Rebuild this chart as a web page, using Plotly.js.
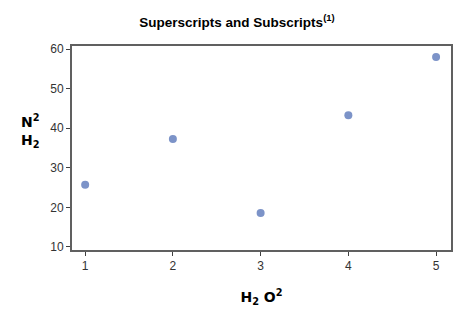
<!DOCTYPE html>
<html><head><meta charset="utf-8">
<script src="https://cdn.plot.ly/plotly-3.0.1.min.js"></script>
<style>html,body{margin:0;padding:0;background:#fff;}#c{width:474px;height:316px;}</style>
</head><body><div id="c"></div>
<script>
const xValues = [1, 2, 3, 4, 5];
const yValues = [25.7, 37.3, 18.6, 43.3, 58.0];
const xTicks = [1, 2, 3, 4, 5];
const yTicks = [10, 20, 30, 40, 50, 60];

const trace = {
  x: xValues, y: yValues, type: 'scatter', mode: 'markers',
  marker: {color: '#7C93C8', size: 8},
  hoverinfo: 'none'
};
const axisCommon = {
  showgrid: false, zeroline: false, showline: true, mirror: true,
  linecolor: '#606060', linewidth: 2, ticks: 'outside', ticklen: 4,
  tickcolor: '#404040', tickwidth: 1,
  tickfont: {family: 'Liberation Sans, Arial, sans-serif', size: 12, color: '#333'}
};
const layout = {
  width: 474, height: 316,
  margin: {l: 72, r: 23, t: 46, b: 66},
  paper_bgcolor: '#fff', plot_bgcolor: '#fff',
  showlegend: false,
  title: {text: '<b>Superscripts and Subscripts<sup>(1)</sup></b>', x: 0.5, xanchor: 'center', y: 0.93, yanchor: 'middle',
    font: {family: 'Liberation Sans, Arial, sans-serif', size: 13.5, color: '#000'}},
  xaxis: Object.assign({}, axisCommon, {range: [0.85, 5.17], tickvals: xTicks, ticktext: xTicks.map(String),
    title: {text: '<b>H<sub>2</sub> O<sup>2</sup></b>', standoff: 20,
      font: {family: 'DejaVu Sans, sans-serif', size: 14, color: '#000'}}}),
  yaxis: Object.assign({}, axisCommon, {range: [9.24, 60.76], tickvals: yTicks, ticktext: yTicks.map(String)}),
  annotations: [{
    text: '<b>N<sup>2</sup><br>H<sub>2</sub></b>', xref: 'paper', yref: 'paper', x: -0.08, y: 0.585,
    xanchor: 'right', yanchor: 'middle', showarrow: false, align: 'left',
    font: {family: 'DejaVu Sans, sans-serif', size: 14, color: '#000'}
  }]
};
Plotly.newPlot('c', [trace], layout, {displayModeBar: false, staticPlot: true});
</script></body></html>
